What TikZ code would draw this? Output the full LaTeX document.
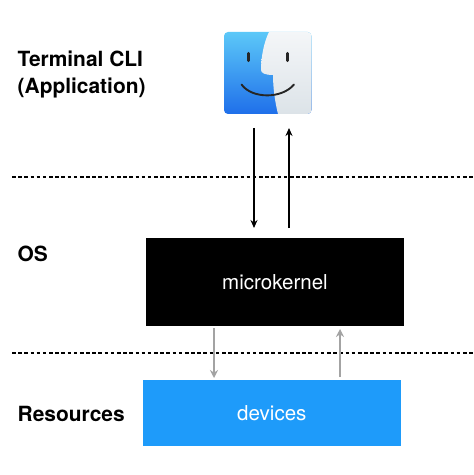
\documentclass[tikz,border=0pt]{standalone}
\usepackage{fontspec}
\setmainfont{TeX Gyre Heros}
\usetikzlibrary{arrows.meta}
\definecolor{devblue}{HTML}{1E9BFA}
\definecolor{arrgray}{HTML}{A3A3A3}
\definecolor{finderA}{HTML}{5CC8F8}
\definecolor{finderB}{HTML}{1F6FEA}
\definecolor{faceA}{HTML}{F4F6F8}
\definecolor{faceB}{HTML}{DCE3E8}
\tikzset{
  lab/.style={font=\bfseries\fontsize{21}{26.8}\selectfont,align=left,anchor=west,inner sep=0pt,text=black},
  boxtxt/.style={font=\fontsize{20.6}{24}\selectfont,text=white},
  sep/.style={line width=1.1pt,dash pattern=on 3.6pt off 2.6pt},
  blk/.style={line width=1.2pt,-{Stealth[length=8pt,width=7pt]}},
  gry/.style={line width=1.6pt,arrgray,-{Stealth[length=8pt,width=8pt]}},
}
\begin{document}
\begin{tikzpicture}[x=1bp,y=-1bp]
\useasboundingbox (0,0) rectangle (474,475);
\fill[white] (0,0) rectangle (474,475);
% Finder icon
\begin{scope}
  \clip[rounded corners=4bp] (224,32) rectangle (311.5,114);
  \shade[top color=finderA,bottom color=finderB] (224,32) rectangle (311.5,114);
  \shade[top color=faceA,bottom color=faceB]
    (269,32) .. controls (264,42) and (261,57) .. (261,70) .. controls (261,73) and (265,75) .. (273,75)
    .. controls (273,88) and (275,102) .. (278,114) -- (311.5,114) -- (311.5,32) -- cycle;
\end{scope}
\draw[line width=3.2pt,black!85,line cap=round] (248.5,53.5) -- (248.5,60.5);
\draw[line width=3.2pt,black!85,line cap=round] (287.5,53.5) -- (287.5,60.5);
\draw[line width=1.9pt,black!85,line cap=round] (241.5,84.5) .. controls (252,99) and (282,99) .. (294,84.5);
% Separators
\coordinate (s1a) at (12,177); \coordinate (s1b) at (474,177);
\coordinate (s2a) at (12,353); \coordinate (s2b) at (474,353);
\draw[sep] (s1a) -- (s1b);
\draw[sep] (s2a) -- (s2b);
% Boxes
\node[fill=black,minimum width=258bp,minimum height=88bp,inner sep=0pt,boxtxt] (mk) at (275,282) {microkernel};
\node[fill=devblue,minimum width=257.5bp,minimum height=66bp,inner sep=0pt,boxtxt] (dev) at (271.8,413) {devices};
% Labels
\node[lab] (l1) at (17.5,74.5) {Terminal CLI\\(Application)};
\node[lab] (l2) at (17.5,254) {OS};
\node[lab] (l3) at (17.5,413.5) {Resources};
% Arrows
\coordinate (a1) at (254,128); \coordinate (a2) at (254,228);
\coordinate (b1) at (289,228); \coordinate (b2) at (289,128);
\coordinate (c1) at (214,328); \coordinate (c2) at (214,378);
\coordinate (d1) at (340,377); \coordinate (d2) at (340,329);
\draw[blk] (a1) -- (a2);
\draw[blk] (b1) -- (b2);
\draw[gry] (c1) -- (c2);
\draw[gry] (d1) -- (d2);
\end{tikzpicture}
\end{document}
